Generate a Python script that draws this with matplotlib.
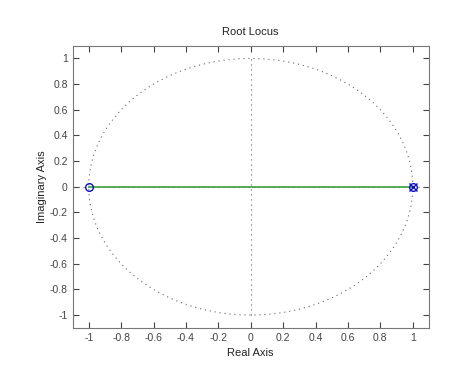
import numpy as np
import matplotlib
matplotlib.use("Agg")
import matplotlib.pyplot as plt

plt.rcParams['font.family'] = ['Liberation Sans', 'DejaVu Sans']
plt.rcParams['axes.unicode_minus'] = False

# root locus data
zeros_re = [-1, 1]
zeros_im = [0, 0]
poles_re = [1]
poles_im = [0]
locus_re = [-1, 1]
locus_im = [0, 0]
xticks = [-1, -0.8, -0.6, -0.4, -0.2, 0, 0.2, 0.4, 0.6, 0.8, 1]
yticks = [-1, -0.8, -0.6, -0.4, -0.2, 0, 0.2, 0.4, 0.6, 0.8, 1]

fig = plt.figure(figsize=(4.74, 3.68), dpi=100)
ax = fig.add_axes([0.153, 0.109, 0.752, 0.767])

# unit circle + axes grid (dotted)
dots = (0, (1, 3.5))
t = np.linspace(0, 2 * np.pi, 400)
ax.plot(np.cos(t), np.sin(t), linestyle=dots, color='#666666', lw=0.8)
ax.plot([0, 0], [-1, 1], linestyle=dots, color='#666666', lw=0.8)
ax.plot([-1.1, 1.1], [0, 0], linestyle=dots, color='#666666', lw=0.8)

ax.plot(locus_re, locus_im, color='#3aa03a', lw=1.2)
ax.plot(zeros_re, zeros_im, 'o', mfc='none', mec='#1010c0', ms=5.5, mew=1.0)
ax.plot(poles_re, poles_im, 'x', color='#1010c0', ms=5.5, mew=1.0)

ax.set_xlim(-1.1, 1.1)
ax.set_ylim(-1.1, 1.1)
ax.set_xticks(xticks)
ax.set_yticks(yticks)
ax.set_xticklabels([f"{v:g}" for v in xticks])
ax.set_yticklabels([f"{v:g}" for v in yticks])
ax.tick_params(direction='in', top=True, right=True, length=4, width=0.8,
               color='#444444', labelsize=7.5, labelcolor='#444444')
for s in ax.spines.values():
    s.set_color('#777777')
    s.set_linewidth(0.8)

ax.set_title('Root Locus', fontsize=8, color='#222222', pad=8)
ax.set_xlabel('Real Axis', fontsize=8, color='#222222')
ax.set_ylabel('Imaginary Axis', fontsize=8, color='#222222', labelpad=2)

fig.savefig('out.png', dpi=100)
